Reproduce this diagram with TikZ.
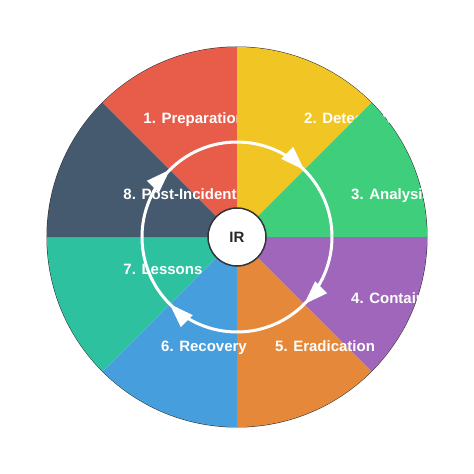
\documentclass[tikz,border=0pt]{standalone}
\usepackage{fontspec}
\setmainfont{Liberation Sans}
\usetikzlibrary{calc}
\definecolor{cred}{HTML}{E85C4A}
\definecolor{cyellow}{HTML}{F1C524}
\definecolor{cgreen}{HTML}{3FCE7C}
\definecolor{cpurple}{HTML}{A066BC}
\definecolor{corange}{HTML}{E6883A}
\definecolor{cblue}{HTML}{479EDC}
\definecolor{cteal}{HTML}{2EC1A0}
\definecolor{cdark}{HTML}{455A6E}
\definecolor{cline}{HTML}{333333}
\tikzset{
  lbl/.style={anchor=base west, inner sep=0pt, text=white, font=\bfseries\fontsize{15}{18}\selectfont},
  ringline/.style={draw=white, line width=3pt},
  arrowhead/.style={fill=white},
}
\newcommand{\cwhead}[1]{%
  \fill[arrowhead] (#1:95) -- ($(#1:95)+(#1+90:24)+(#1:8.5)$) -- ($(#1:95)+(#1+90:24)+(#1:-8.5)$) -- cycle;}
\begin{document}
\begin{tikzpicture}[x=1pt,y=1pt]
\useasboundingbox (-237,-237) rectangle (237,237);
\coordinate (O) at (0,0);
\fill[white] (-237,-237) rectangle (237,237);
\draw[cline, line width=1pt, fill=white] (O) circle[radius=190];
% sectors with labels
\fill[cred] (O) -- (90:190) arc[start angle=90, end angle=135, radius=190] -- cycle;
\node[lbl] (l1) at (-93.7,113.5) {1. Preparation};
\fill[cyellow] (O) -- (45:190) arc[start angle=45, end angle=90, radius=190] -- cycle;
\node[lbl] (l2) at (67,113.5) {2. Detection};
\fill[cgreen] (O) -- (0:190) arc[start angle=0, end angle=45, radius=190] -- cycle;
\node[lbl] (l3) at (114,37.5) {3. Analysis};
\fill[cpurple] (O) -- (-45:190) arc[start angle=-45, end angle=0, radius=190] -- cycle;
\node[lbl] (l4) at (114,-66) {4. Containment};
\fill[corange] (O) -- (-90:190) arc[start angle=-90, end angle=-45, radius=190] -- cycle;
\node[lbl] (l5) at (38,-114) {5. Eradication};
\fill[cblue] (O) -- (-135:190) arc[start angle=-135, end angle=-90, radius=190] -- cycle;
\node[lbl] (l6) at (-76,-114) {6. Recovery};
\fill[cteal] (O) -- (180:190) arc[start angle=180, end angle=225, radius=190] -- cycle;
\node[lbl] (l7) at (-113.7,-37.5) {7. Lessons};
\fill[cdark] (O) -- (135:190) arc[start angle=135, end angle=180, radius=190] -- cycle;
\node[lbl] (l8) at (-113.7,38) {8. Post-Incident};
% ring with clockwise arrowheads
\draw[ringline] (O) circle[radius=95];
\cwhead{45}
\cwhead{-45}
\cwhead{-135}
\cwhead{135}
% centre
\node[circle, draw=cline, line width=1.5pt, fill=white, minimum size=58pt, inner sep=0pt,
      text=black!85, font=\bfseries\fontsize{15}{18}\selectfont] (ir) at (O) {IR};
\end{tikzpicture}
\end{document}
